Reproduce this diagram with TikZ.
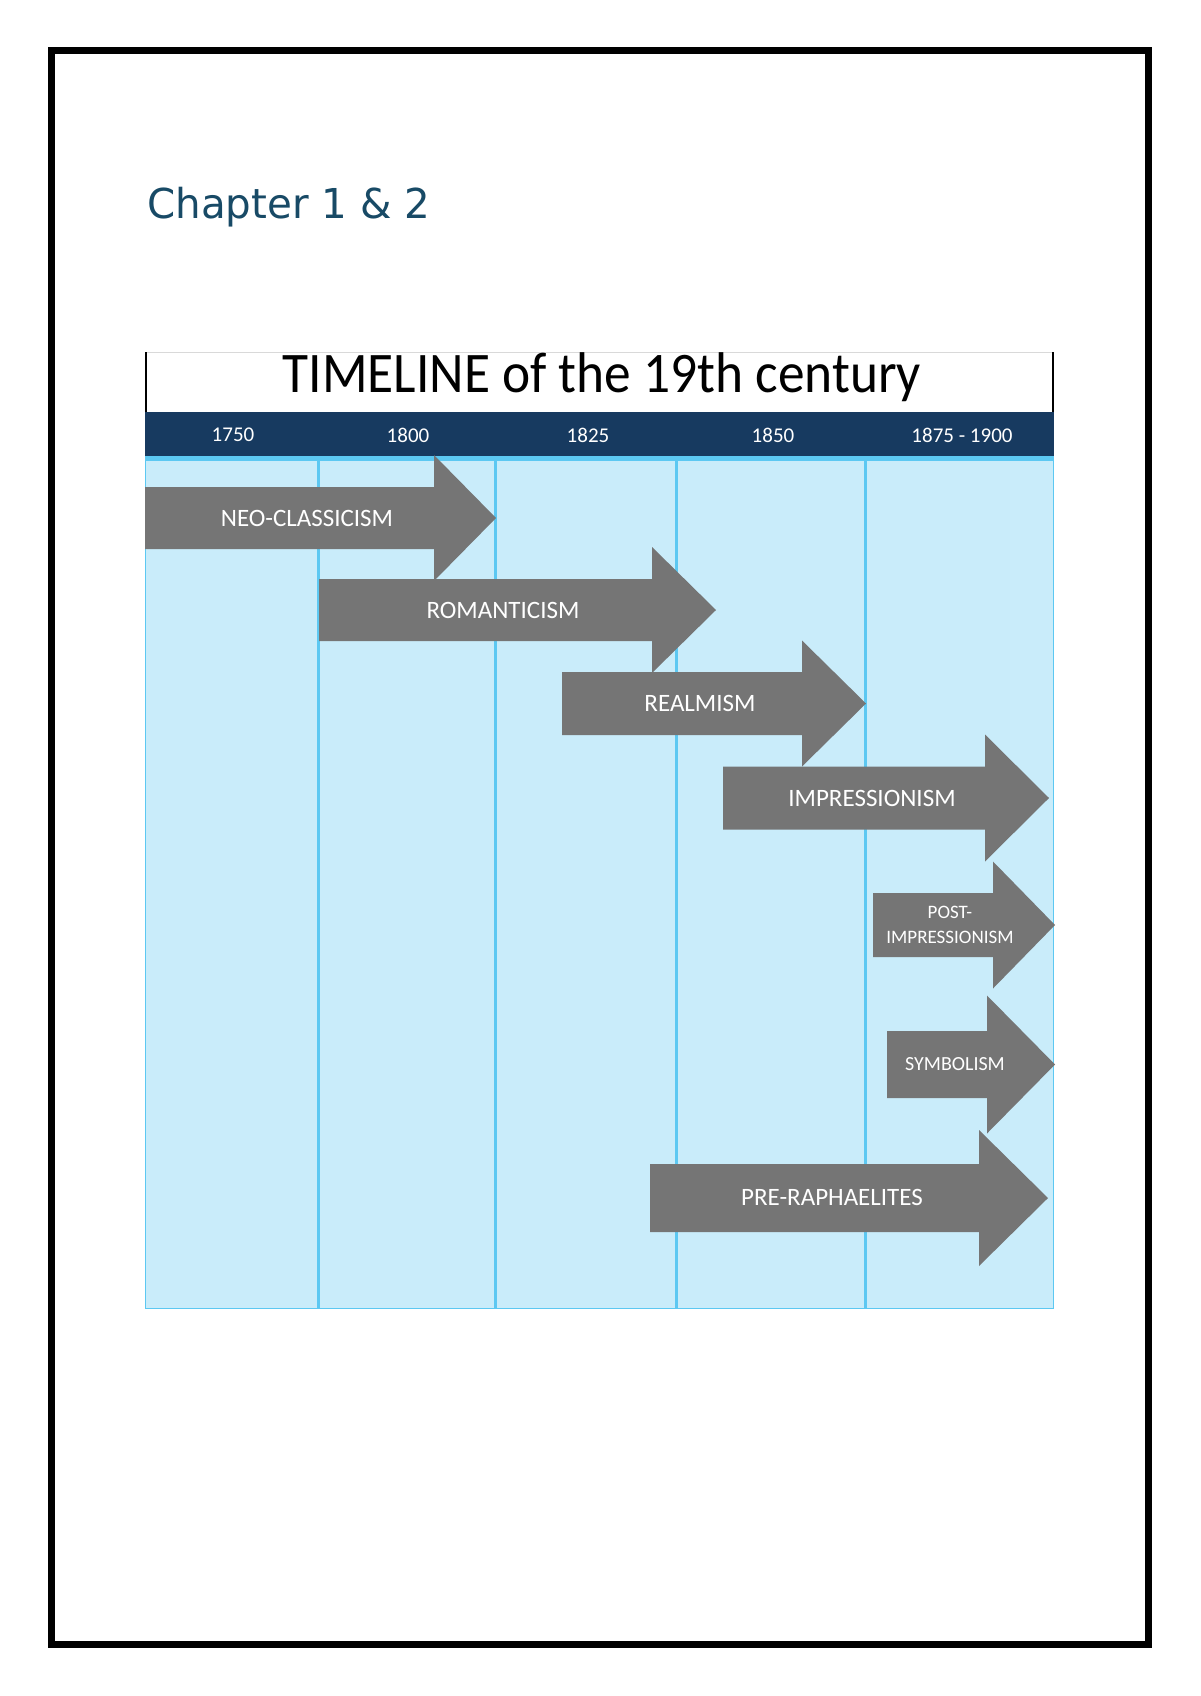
\documentclass[tikz,border=0pt]{standalone}
\usepackage{graphicx}
\usepackage{fontspec}
\setmainfont{Carlito}
\newfontfamily\dejavu{DejaVu Sans}
\definecolor{chaptercol}{RGB}{24,74,102}
\definecolor{bandblue}{RGB}{23,58,96}
\definecolor{stripblue}{RGB}{92,200,242}
\definecolor{paleblue}{RGB}{201,236,250}
\definecolor{arrowgray}{RGB}{117,117,117}
\newcommand\tlarrow[6]{\fill[arrowgray] (#1,{#4-#5}) -- (#2,{#4-#5}) -- (#2,{#4-#6}) -- (#3,#4) -- (#2,{#4+#6}) -- (#2,{#4+#5}) -- (#1,{#4+#5}) -- cycle;}
\begin{document}
\begin{tikzpicture}[x=0.5pt,y=-0.5pt,
  lbl/.style={text=white,font=\fontsize{12.5}{15}\selectfont,inner sep=0pt},
  smalllbl/.style={text=white,font=\fontsize{9.5}{12.5}\selectfont,inner sep=0pt,align=center},
  yearlbl/.style={text=white,font=\fontsize{10.5}{12}\selectfont,inner sep=0pt},
  colline/.style={draw=stripblue,line width=1.5pt}]
\useasboundingbox (0,0) rectangle (1200,1696);
\fill[white] (0,0) rectangle (1200,1696);
% page frame
\draw[line width=3.5pt] (51,51) rectangle (1148.5,1644.5);
% chapter heading
\node[anchor=base west,inner sep=0pt,text=chaptercol,font=\dejavu\fontsize{20.6}{24}\selectfont] (chap) at (147,219) {\scalebox{0.98}[1]{Chapter 1 \& 2}};
% title box
\fill[white] (145,352) rectangle (1054,412);
\draw[gray!30,line width=0.5pt] (145,352) -- (1054,352);
\draw[black,line width=0.8pt] (146,352) -- (146,412);
\draw[black,line width=0.8pt] (1053,352) -- (1053,412);
\node[anchor=base,inner sep=0pt,font=\fontsize{28.7}{34}\selectfont] (title) at (602,392) {\scalebox{0.93}[1]{TIMELINE of the 19th century}};
% year band
\fill[bandblue] (145,412) rectangle (1054,456);
\fill[stripblue] (145,456) rectangle (1054,461);
\node[yearlbl] (y1) at (233,435) {1750};
\node[yearlbl] (y2) at (408,435) {1800};
\node[yearlbl] (y3) at (588,435) {1825};
\node[yearlbl] (y4) at (773,435) {1850};
\node[yearlbl] (y5) at (962,435) {1875 - 1900};
% columns
\fill[paleblue] (145,461) rectangle (1054,1309);
\draw[stripblue,line width=0.8pt] (145.5,458) -- (145.5,1308.5) -- (1053.5,1308.5) -- (1053.5,458);
\draw[colline] (318,456) -- (318,1309);
\draw[colline] (495,456) -- (495,1309);
\draw[colline] (676,456) -- (676,1309);
\draw[colline] (865,456) -- (865,1309);
% arrows
\tlarrow{145}{434}{496}{518}{31}{63}
\tlarrow{319}{652}{716}{610}{31}{63}
\tlarrow{562}{802}{866}{703.5}{31.5}{63}
\tlarrow{723}{985}{1049}{798}{31.5}{63.5}
\tlarrow{873}{993}{1055}{925}{32}{63.5}
\tlarrow{887}{987}{1055}{1064.5}{33.5}{69}
\tlarrow{650}{979}{1048}{1198}{34}{68}
% labels
\node[lbl] (neo) at (307,518) {NEO-CLASSICISM};
\node[lbl] (rom) at (503,610) {ROMANTICISM};
\node[lbl] (real) at (700,703.5) {REALMISM};
\node[lbl] (imp) at (872,798) {IMPRESSIONISM};
\node[smalllbl] (post) at (950,925) {POST-\\IMPRESSIONISM};
\node[lbl,font=\fontsize{10}{12}\selectfont] (symb) at (955,1064) {SYMBOLISM};
\node[lbl] (pre) at (832,1197) {PRE-RAPHAELITES};
\end{tikzpicture}
\end{document}
